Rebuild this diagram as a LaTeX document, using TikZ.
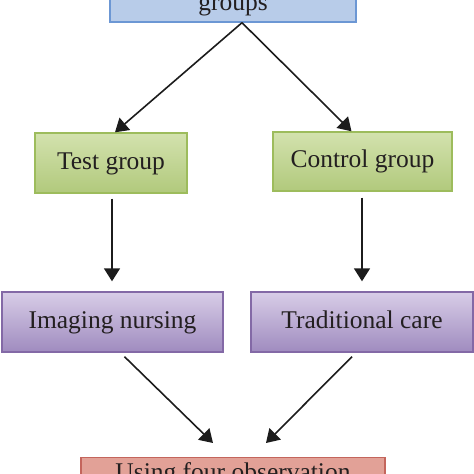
\documentclass[tikz,border=0pt]{standalone}
\usepackage{fontspec}
\setmainfont{Liberation Serif}
\usetikzlibrary{arrows.meta,calc}
\definecolor{txt}{HTML}{231F20}
\definecolor{blueF}{HTML}{B8CCE9}
\definecolor{blueD}{HTML}{6C97D4}
\definecolor{greenT}{HTML}{D3E2AE}
\definecolor{greenB}{HTML}{B1C97C}
\definecolor{greenD}{HTML}{9DBC5C}
\definecolor{purpT}{HTML}{D8CDE7}
\definecolor{purpB}{HTML}{9F8BBF}
\definecolor{purpD}{HTML}{8369A6}
\definecolor{redF}{HTML}{E2A197}
\definecolor{redD}{HTML}{C4655C}
\definecolor{arr}{HTML}{1C1C1C}
\tikzset{
  box/.style={rectangle, line width=1.4pt, text=txt, inner xsep=4pt,
    font=\fontsize{25.5pt}{30pt}\selectfont, text height=17pt, text depth=5pt},
  bluebox/.style={box, fill=blueF, draw=blueD},
  greenbox/.style={box, top color=greenT, bottom color=greenB, draw=greenD, minimum height=60pt},
  purpbox/.style={box, top color=purpT, bottom color=purpB, draw=purpD, minimum height=60pt},
  redbox/.style={box, fill=redF, draw=redD},
  flow/.style={draw=arr, line width=1.6pt, -{Triangle[length=13pt,width=16pt]}}
}
\begin{document}
\begin{tikzpicture}[x=1pt,y=-1pt]
\useasboundingbox (0,0) rectangle (474,474);
\begin{scope}
\clip (0,0) rectangle (474,474);
\node[bluebox, anchor=south, minimum width=246pt, inner ysep=7pt] (top) at (233,22.7) {groups};
\node[greenbox, minimum width=152pt] (tg) at (111,163) {Test group};
\node[greenbox, minimum width=179pt, minimum height=59pt] (cg) at (362.5,161.5) {Control group};
\node[purpbox, minimum width=221pt] (im) at (112.5,322) {Imaging nursing};
\node[purpbox, minimum width=222pt] (tc) at (362,322) {Traditional care};
\node[redbox, anchor=north, minimum width=304pt, inner ysep=6pt] (obs) at (233,457) {Using four observation};
\end{scope}
\coordinate (split) at ($(top.south)+(9,0)$);
\draw[flow] (split) -- ($(tg.north)+(4,0)$);
\draw[flow] (split) -- ($(cg.north)+(-11,0)$);
\draw[flow] ($(tg.south)+(1,5)$) -- ($(im.north)+(-0.5,-10)$);
\draw[flow] ($(cg.south)+(-0.5,6)$) -- ($(tc.north)+(0,-10)$);
\draw[flow] ($(im.south)+(12,4)$) -- ($(obs.north)+(-20,-14)$);
\draw[flow] ($(tc.south)+(-10,4)$) -- ($(obs.north)+(33,-14)$);
\end{tikzpicture}
\end{document}
